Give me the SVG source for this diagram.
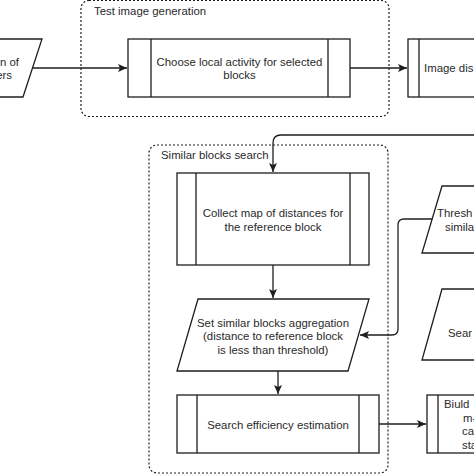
<svg xmlns="http://www.w3.org/2000/svg" width="474" height="474" viewBox="0 0 474 474">
<style>
.bg{fill:#ffffff}
.box{fill:#ffffff;stroke:#1e1e1e;stroke-width:1.3}
.in{stroke:#1e1e1e;stroke-width:1.3;fill:none}
.grp{fill:none;stroke:#1e1e1e;stroke-width:1.2;stroke-dasharray:2 2}
.conn{fill:none;stroke:#1e1e1e;stroke-width:1.3}
text{font-family:"Liberation Sans",Arial,sans-serif;font-size:11.4px;fill:#2a2a2a}
.c{text-anchor:middle}
</style>
<defs>
<marker id="arr" markerUnits="userSpaceOnUse" markerWidth="10" markerHeight="10" refX="9" refY="4" orient="auto">
<path d="M0,0 L9,4 L0,8 L2,4 z" fill="#1e1e1e"/>
</marker>
</defs>
<rect class="bg" x="0" y="0" width="474" height="474"/>

<g id="group-test">
<rect class="grp" x="81" y="0.5" width="308" height="116" rx="8"/>
<text x="94" y="15">Test image generation</text>
</g>
<g id="group-similar">
<rect class="grp" x="149" y="145" width="239" height="328" rx="8"/>
<text x="161" y="159">Similar blocks search</text>
</g>

<g id="connectors">
<path class="conn" d="M33,68 H127" marker-end="url(#arr)"/>
<path class="conn" d="M350,68 H407" marker-end="url(#arr)"/>
<path class="conn" d="M474,135 H281 Q273,135 273,143 V172" marker-end="url(#arr)"/>
<path class="conn" d="M273,265 V298" marker-end="url(#arr)"/>
<path class="conn" d="M278,371 V394" marker-end="url(#arr)"/>
<path class="conn" d="M379,424 H426" marker-end="url(#arr)"/>
<path class="conn" d="M432,219 H404 Q398,219 398,225 V329 Q398,335 392,335 H360" marker-end="url(#arr)"/>
</g>

<g id="node-params">
<polygon class="box" points="-20,39 42,39 23,97 -40,97"/>
<text x="19" y="66" text-anchor="end">n of</text>
<text x="12" y="79" text-anchor="end">ers</text>
</g>

<g id="node-choose">
<rect class="box" x="128" y="39" width="222" height="58"/>
<path class="in" d="M151,39 V97 M328,39 V97"/>
<text class="c" x="239.5" y="66">Choose local activity for selected</text>
<text class="c" x="239.5" y="79">blocks</text>
</g>

<g id="node-image">
<rect class="box" x="408" y="39" width="80" height="58"/>
<path class="in" d="M419,39 V97"/>
<text x="424" y="72">Image dis</text>
</g>

<g id="node-collect">
<rect class="box" x="177" y="173" width="192" height="92"/>
<path class="in" d="M196,173 V265 M350,173 V265"/>
<text class="c" x="273" y="217">Collect map of distances for</text>
<text class="c" x="273" y="231">the reference block</text>
</g>

<g id="node-set">
<polygon class="box" points="198,299 369,299 348,371 177,371"/>
<text class="c" x="273" y="327">Set similar blocks aggregation</text>
<text class="c" x="273" y="340">(distance to reference block</text>
<text class="c" x="273" y="354">is less than threshold)</text>
</g>

<g id="node-efficiency">
<rect class="box" x="177" y="395" width="202" height="58"/>
<path class="in" d="M197,395 V453 M359,395 V453"/>
<text class="c" x="278" y="429">Search efficiency estimation</text>
</g>

<g id="node-threshold">
<polygon class="box" points="442,186 490,186 490,253 422,253"/>
<text x="437" y="217">Thresh</text>
<text x="445" y="231">simila</text>
</g>

<g id="node-search">
<polygon class="box" points="442,289 490,289 490,360 422,360"/>
<text x="448" y="337">Sear</text>
</g>

<g id="node-build">
<rect class="box" x="427" y="395" width="60" height="58"/>
<path class="in" d="M438,395 V453"/>
<text x="444" y="408">Biuld</text>
<text x="463" y="422">m-</text>
<text x="462" y="435">ca</text>
<text x="462" y="449">sta</text>
</g>
</svg>
